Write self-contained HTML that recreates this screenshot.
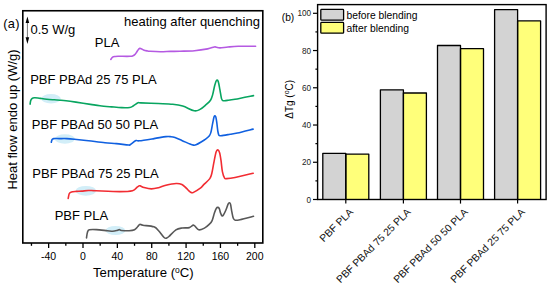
<!DOCTYPE html>
<html><head><meta charset="utf-8"><style>
html,body{margin:0;padding:0;background:#fff;}
svg{display:block;font-family:"Liberation Sans",sans-serif;}
</style></head><body>
<svg width="550" height="286" viewBox="0 0 550 286">
<rect width="550" height="286" fill="#fff"/>
<!-- chart a -->
<g fill="none" stroke-linecap="round" stroke-linejoin="round" stroke-width="1.6">
<ellipse cx="51" cy="98.8" rx="9.8" ry="4.7" fill="#d2eef8"/><ellipse cx="64.9" cy="139" rx="10.1" ry="4.7" fill="#d2eef8"/><ellipse cx="85.9" cy="190.8" rx="10.1" ry="4.9" fill="#d2eef8"/><ellipse cx="115.5" cy="230.5" rx="9.8" ry="4.6" fill="#d2eef8"/>
<path d="M110.80,59.40 C111.10,59.03 111.90,57.68 112.60,57.20 C113.30,56.72 114.10,56.65 115.00,56.50 C115.90,56.35 115.50,56.33 118.00,56.30 C120.50,56.27 127.50,56.38 130.00,56.30 C132.50,56.22 132.17,56.12 133.00,55.80 C133.83,55.48 134.40,55.00 135.00,54.40 C135.60,53.80 136.03,53.03 136.60,52.20 C137.17,51.37 137.87,50.03 138.40,49.40 C138.93,48.77 139.33,48.52 139.80,48.40 C140.27,48.28 140.58,48.43 141.20,48.70 C141.82,48.97 142.53,49.63 143.50,50.00 C144.47,50.37 145.92,50.68 147.00,50.90 C148.08,51.12 147.78,51.17 150.00,51.30 C152.22,51.43 156.88,51.68 160.30,51.70 C163.72,51.72 167.22,51.48 170.50,51.40 C173.78,51.32 176.00,51.32 180.00,51.20 C184.00,51.08 189.90,51.08 194.50,50.70 C199.10,50.32 204.32,49.52 207.60,48.90 C210.88,48.28 212.73,47.28 214.20,47.00 C215.67,46.72 215.43,47.05 216.40,47.20 C217.37,47.35 218.07,47.93 220.00,47.90 C221.93,47.87 224.97,47.27 228.00,47.00 C231.03,46.73 233.60,46.42 238.20,46.30 C242.80,46.18 252.70,46.30 255.60,46.30" stroke="#b55ae2"/>
<path d="M30.10,104.20 C30.18,103.67 30.35,101.87 30.60,101.00 C30.85,100.13 31.20,99.52 31.60,99.00 C32.00,98.48 32.43,98.12 33.00,97.90 C33.57,97.68 33.80,97.62 35.00,97.70 C36.20,97.78 38.23,98.15 40.20,98.40 C42.17,98.65 44.48,98.97 46.80,99.20 C49.12,99.43 51.92,99.63 54.10,99.80 C56.28,99.97 57.92,100.03 59.90,100.20 C61.88,100.37 63.33,100.47 66.00,100.80 C68.67,101.12 71.82,101.56 75.90,102.15 C79.98,102.74 86.48,103.75 90.50,104.35 C94.52,104.95 96.48,105.33 100.00,105.75 C103.52,106.17 107.97,106.53 111.60,106.85 C115.23,107.17 118.77,107.55 121.80,107.65 C124.83,107.75 127.85,107.77 129.80,107.45 C131.75,107.13 132.12,106.52 133.50,105.75 C134.88,104.98 136.90,103.33 138.10,102.85 C139.30,102.37 137.35,102.73 140.70,102.85 C144.05,102.97 152.87,103.32 158.20,103.55 C163.53,103.78 168.62,103.83 172.70,104.25 C176.78,104.67 179.12,104.96 182.70,106.05 C186.28,107.14 191.32,110.24 194.20,110.80 C197.08,111.36 198.07,110.38 200.00,109.40 C201.93,108.42 204.05,106.43 205.80,104.90 C207.55,103.37 209.37,101.87 210.50,100.20 C211.63,98.53 211.90,97.35 212.60,94.90 C213.30,92.45 214.03,87.95 214.70,85.50 C215.37,83.05 216.00,80.82 216.60,80.20 C217.20,79.58 217.75,80.22 218.30,81.80 C218.85,83.38 219.37,86.90 219.90,89.70 C220.43,92.50 220.97,96.77 221.50,98.60 C222.03,100.43 222.13,100.40 223.10,100.70 C224.07,101.00 225.32,100.63 227.30,100.40 C229.28,100.17 230.63,100.10 235.00,99.30 C239.37,98.50 250.42,96.22 253.50,95.60" stroke="#08a560"/>
<path d="M51.30,142.20 C51.43,141.75 51.70,140.10 52.10,139.50 C52.50,138.90 52.52,138.75 53.70,138.60 C54.88,138.45 57.02,138.60 59.20,138.60 C61.38,138.60 64.27,138.50 66.80,138.60 C69.33,138.70 70.77,138.83 74.40,139.20 C78.03,139.57 83.50,140.22 88.60,140.80 C93.70,141.38 100.37,142.23 105.00,142.70 C109.63,143.17 112.47,143.22 116.40,143.60 C120.33,143.98 126.28,144.85 128.60,145.00 C130.92,145.15 129.07,145.23 130.30,144.50 C131.53,143.77 134.50,141.22 136.00,140.60 C137.50,139.98 136.30,141.13 139.30,140.80 C142.30,140.47 149.55,139.30 154.00,138.60 C158.45,137.90 163.17,136.92 166.00,136.60 C168.83,136.28 169.50,136.53 171.00,136.70 C172.50,136.87 173.20,136.98 175.00,137.60 C176.80,138.22 179.30,139.32 181.80,140.40 C184.30,141.48 188.05,143.32 190.00,144.10 C191.95,144.88 192.50,144.98 193.50,145.10 C194.50,145.22 194.65,145.37 196.00,144.80 C197.35,144.23 200.07,142.60 201.60,141.70 C203.13,140.80 203.90,140.40 205.20,139.40 C206.50,138.40 208.43,136.93 209.40,135.70 C210.37,134.47 210.47,134.02 211.00,132.00 C211.53,129.98 212.08,126.13 212.60,123.60 C213.12,121.07 213.72,118.08 214.10,116.80 C214.48,115.52 214.62,115.88 214.90,115.90 C215.18,115.92 215.48,115.78 215.80,116.90 C216.12,118.02 216.47,120.25 216.80,122.60 C217.13,124.95 217.45,128.90 217.80,131.00 C218.15,133.10 218.37,134.42 218.90,135.20 C219.43,135.98 219.15,135.85 221.00,135.70 C222.85,135.55 227.27,134.75 230.00,134.30 C232.73,133.85 233.55,133.87 237.40,133.00 C241.25,132.13 250.48,129.75 253.10,129.10" stroke="#1060e0"/>
<path d="M68.20,198.40 C68.38,197.58 68.75,194.58 69.30,193.50 C69.85,192.42 70.32,192.25 71.50,191.90 C72.68,191.55 74.68,191.53 76.40,191.40 C78.12,191.27 79.80,191.25 81.80,191.10 C83.80,190.95 86.03,190.55 88.40,190.50 C90.77,190.45 90.73,190.62 96.00,190.80 C101.27,190.98 113.92,191.62 120.00,191.60 C126.08,191.58 129.70,191.38 132.50,190.70 C135.30,190.02 135.67,188.32 136.80,187.50 C137.93,186.68 138.67,186.05 139.30,185.80 C139.93,185.55 139.80,185.70 140.60,186.00 C141.40,186.30 142.30,187.12 144.10,187.60 C145.90,188.08 148.98,188.88 151.40,188.90 C153.82,188.92 156.18,188.30 158.60,187.70 C161.02,187.10 162.98,186.00 165.90,185.30 C168.82,184.60 173.43,183.63 176.10,183.50 C178.77,183.37 180.20,183.72 181.90,184.50 C183.60,185.28 185.03,187.05 186.30,188.20 C187.57,189.35 188.63,190.67 189.50,191.40 C190.37,192.13 190.83,192.43 191.50,192.60 C192.17,192.77 191.97,193.18 193.50,192.40 C195.03,191.62 199.03,189.15 200.70,187.90 C202.37,186.65 201.98,186.45 203.50,184.90 C205.02,183.35 208.40,180.58 209.80,178.60 C211.20,176.62 211.20,175.80 211.90,173.00 C212.60,170.20 213.30,165.30 214.00,161.80 C214.70,158.30 215.47,153.98 216.10,152.00 C216.73,150.02 217.22,149.78 217.80,149.90 C218.38,150.02 219.07,150.95 219.60,152.70 C220.13,154.45 220.53,157.25 221.00,160.40 C221.47,163.55 221.82,168.68 222.40,171.60 C222.98,174.52 223.80,176.73 224.50,177.90 C225.20,179.07 224.85,178.67 226.60,178.60 C228.35,178.53 230.57,178.40 235.00,177.50 C239.43,176.60 250.17,173.92 253.20,173.20" stroke="#f22c32"/>
<path d="M86.50,237.90 C86.65,236.98 86.93,233.74 87.40,232.40 C87.87,231.06 87.80,230.31 89.30,229.85 C90.80,229.39 93.40,229.50 96.40,229.65 C99.40,229.80 104.58,230.48 107.30,230.75 C110.02,231.02 111.07,231.30 112.70,231.25 C114.33,231.20 116.00,230.72 117.10,230.45 C118.20,230.18 118.58,229.65 119.30,229.65 C120.02,229.65 119.77,230.27 121.40,230.45 C123.03,230.63 126.92,230.88 129.10,230.75 C131.28,230.62 133.05,230.41 134.50,229.70 C135.95,228.99 136.93,227.38 137.80,226.50 C138.67,225.62 138.85,224.62 139.70,224.40 C140.55,224.18 140.53,224.80 142.90,225.20 C145.27,225.60 151.28,225.88 153.90,226.80 C156.52,227.72 156.90,228.92 158.60,230.70 C160.30,232.48 162.78,236.27 164.10,237.50 C165.42,238.73 165.70,238.27 166.50,238.10 C167.30,237.93 167.33,237.87 168.90,236.50 C170.47,235.13 173.68,231.32 175.90,229.90 C178.12,228.48 179.97,228.38 182.20,228.00 C184.43,227.62 187.37,228.07 189.30,227.60 C191.23,227.13 192.23,224.83 193.80,225.20 C195.37,225.57 196.93,229.32 198.70,229.80 C200.47,230.28 202.65,229.00 204.40,228.10 C206.15,227.20 207.92,225.65 209.20,224.40 C210.48,223.15 211.23,222.48 212.10,220.60 C212.97,218.72 213.70,215.13 214.40,213.10 C215.10,211.07 215.75,209.35 216.30,208.40 C216.85,207.45 217.22,207.40 217.70,207.40 C218.18,207.40 218.72,207.45 219.20,208.40 C219.68,209.35 220.13,211.85 220.60,213.10 C221.07,214.35 221.53,215.58 222.00,215.90 C222.47,216.22 222.77,215.93 223.40,215.00 C224.03,214.07 225.02,212.12 225.80,210.30 C226.58,208.48 227.52,205.37 228.10,204.10 C228.68,202.83 228.90,202.70 229.30,202.70 C229.70,202.70 230.07,202.52 230.50,204.10 C230.93,205.68 231.43,209.83 231.90,212.20 C232.37,214.57 232.75,216.97 233.30,218.30 C233.85,219.63 234.08,219.97 235.20,220.20 C236.32,220.43 236.95,220.35 240.00,219.70 C243.05,219.05 251.25,216.87 253.50,216.30" stroke="#585858"/>
</g>
<rect x="22.8" y="10.75" width="240" height="232.25" fill="none" stroke="#000" stroke-width="1.6"/>
<g stroke="#000" stroke-width="1.3"><line x1="48.64" y1="243" x2="48.64" y2="248"/><line x1="83.00" y1="243" x2="83.00" y2="248"/><line x1="117.36" y1="243" x2="117.36" y2="248"/><line x1="151.72" y1="243" x2="151.72" y2="248"/><line x1="186.08" y1="243" x2="186.08" y2="248"/><line x1="220.44" y1="243" x2="220.44" y2="248"/><line x1="254.80" y1="243" x2="254.80" y2="248"/><line x1="31.46" y1="243" x2="31.46" y2="245.8"/><line x1="65.82" y1="243" x2="65.82" y2="245.8"/><line x1="100.18" y1="243" x2="100.18" y2="245.8"/><line x1="134.54" y1="243" x2="134.54" y2="245.8"/><line x1="168.90" y1="243" x2="168.90" y2="245.8"/><line x1="203.26" y1="243" x2="203.26" y2="245.8"/><line x1="237.62" y1="243" x2="237.62" y2="245.8"/></g>
<g font-size="10.5" fill="#000"><text x="48.64" y="259.8" text-anchor="middle">-40</text><text x="83.00" y="259.8" text-anchor="middle">0</text><text x="117.36" y="259.8" text-anchor="middle">40</text><text x="151.72" y="259.8" text-anchor="middle">80</text><text x="186.08" y="259.8" text-anchor="middle">120</text><text x="220.44" y="259.8" text-anchor="middle">160</text><text x="254.80" y="259.8" text-anchor="middle">200</text></g>
<text x="93" y="277.2" font-size="13.2">Temperature (<tspan font-size="8.5" dy="-4.6">o</tspan><tspan dy="4.6">C)</tspan></text>
<text transform="translate(17.1 189.6) rotate(-90)" x="0" y="0" font-size="13">Heat flow endo up (W/g)</text>
<text x="3.2" y="28" font-size="12.8" letter-spacing="0.4">(a)</text>
<!-- scale arrow -->
<line x1="27.4" y1="21" x2="27.4" y2="38" stroke="#777" stroke-width="1"/>
<path d="M27.4,16.6 L29.2,23 L25.6,23 Z M27.4,44 L29.2,37.3 L25.6,37.3 Z" fill="#000"/>
<text x="30.5" y="34" font-size="13">0.5 W/g</text>
<text x="124" y="26.4" font-size="13">heating after quenching</text>
<g font-size="13">
<text x="94.8" y="47.2">PLA</text>
<text x="30.2" y="84.1">PBF PBAd 25 75 PLA</text>
<text x="31.8" y="129.1">PBF PBAd 50 50 PLA</text>
<text x="32.3" y="177.9">PBF PBAd 75 25 PLA</text>
<text x="54.7" y="220.1">PBF PLA</text>
</g>
<!-- chart b -->
<rect x="322.80" y="153.32" width="23" height="46.18" fill="#d3d3d3"/><rect x="345.80" y="154.07" width="23" height="45.43" fill="#ffff7a"/><rect x="380.40" y="89.83" width="23" height="109.67" fill="#d3d3d3"/><rect x="403.40" y="92.99" width="23" height="106.51" fill="#ffff7a"/><rect x="437.50" y="45.51" width="23" height="153.99" fill="#d3d3d3"/><rect x="460.50" y="48.68" width="23" height="150.82" fill="#ffff7a"/><rect x="494.60" y="9.58" width="23" height="189.92" fill="#d3d3d3"/><rect x="517.60" y="20.93" width="23" height="178.57" fill="#ffff7a"/><path d="M322.80,199.5 V153.32 H345.80 V199.5" fill="none" stroke="#000" stroke-width="1.3" stroke-linejoin="round"/><path d="M345.80,199.5 V154.07 H368.80 V199.5" fill="none" stroke="#000" stroke-width="1.3" stroke-linejoin="round"/><path d="M380.40,199.5 V89.83 H403.40 V199.5" fill="none" stroke="#000" stroke-width="1.3" stroke-linejoin="round"/><path d="M403.40,199.5 V92.99 H426.40 V199.5" fill="none" stroke="#000" stroke-width="1.3" stroke-linejoin="round"/><path d="M437.50,199.5 V45.51 H460.50 V199.5" fill="none" stroke="#000" stroke-width="1.3" stroke-linejoin="round"/><path d="M460.50,199.5 V48.68 H483.50 V199.5" fill="none" stroke="#000" stroke-width="1.3" stroke-linejoin="round"/><path d="M494.60,199.5 V9.58 H517.60 V199.5" fill="none" stroke="#000" stroke-width="1.3" stroke-linejoin="round"/><path d="M517.60,199.5 V20.93 H540.60 V199.5" fill="none" stroke="#000" stroke-width="1.3" stroke-linejoin="round"/>
<g fill="none" stroke="#000" stroke-width="1.3" stroke-linejoin="round"></g>
<rect x="317.6" y="4.6" width="228.5" height="194.9" fill="none" stroke="#000" stroke-width="1.4"/>
<g stroke="#000" stroke-width="1.2"><line x1="313" y1="199.50" x2="317.6" y2="199.50"/><line x1="313" y1="162.26" x2="317.6" y2="162.26"/><line x1="313" y1="125.02" x2="317.6" y2="125.02"/><line x1="313" y1="87.78" x2="317.6" y2="87.78"/><line x1="313" y1="50.54" x2="317.6" y2="50.54"/><line x1="313" y1="13.30" x2="317.6" y2="13.30"/><line x1="315.4" y1="180.88" x2="317.6" y2="180.88"/><line x1="315.4" y1="143.64" x2="317.6" y2="143.64"/><line x1="315.4" y1="106.40" x2="317.6" y2="106.40"/><line x1="315.4" y1="69.16" x2="317.6" y2="69.16"/><line x1="315.4" y1="31.92" x2="317.6" y2="31.92"/><line x1="345.80" y1="199.5" x2="345.80" y2="203.6"/><line x1="403.40" y1="199.5" x2="403.40" y2="203.6"/><line x1="460.50" y1="199.5" x2="460.50" y2="203.6"/><line x1="517.60" y1="199.5" x2="517.60" y2="203.6"/></g>
<g font-size="8.2" fill="#222"><text x="311.1" y="202.60" text-anchor="end">0</text><text x="311.1" y="165.36" text-anchor="end">20</text><text x="311.1" y="128.12" text-anchor="end">40</text><text x="311.1" y="90.88" text-anchor="end">60</text><text x="311.1" y="53.64" text-anchor="end">80</text><text x="311.1" y="16.40" text-anchor="end">100</text></g>
<text transform="translate(292.6 118.8) rotate(-90)" font-size="10">ΔTg (<tspan font-size="7" dy="-3.5">o</tspan><tspan dy="3.5">C)</tspan></text>
<text x="281.8" y="20.7" font-size="10.2">(b)</text>
<rect x="320.8" y="9.4" width="22.8" height="10.8" rx="0.8" fill="#d3d3d3" stroke="#000" stroke-width="1.3"/>
<rect x="320.8" y="22.4" width="22.8" height="10.8" rx="0.8" fill="#ffff7a" stroke="#000" stroke-width="1.3"/>
<text x="346.5" y="18.6" font-size="10.3">before blending</text>
<text x="346.5" y="31.6" font-size="10.3">after blending</text>
<g font-size="10.3" fill="#111"><text x="353.80" y="212.60" text-anchor="end" transform="rotate(-45 353.80 212.60)">PBF PLA</text><text x="411.40" y="212.60" text-anchor="end" transform="rotate(-45 411.40 212.60)">PBF PBAd 75 25 PLA</text><text x="468.50" y="212.60" text-anchor="end" transform="rotate(-45 468.50 212.60)">PBF PBAd 50 50 PLA</text><text x="525.60" y="212.60" text-anchor="end" transform="rotate(-45 525.60 212.60)">PBF PBAd 25 75 PLA</text></g>
</svg>
</body></html>
